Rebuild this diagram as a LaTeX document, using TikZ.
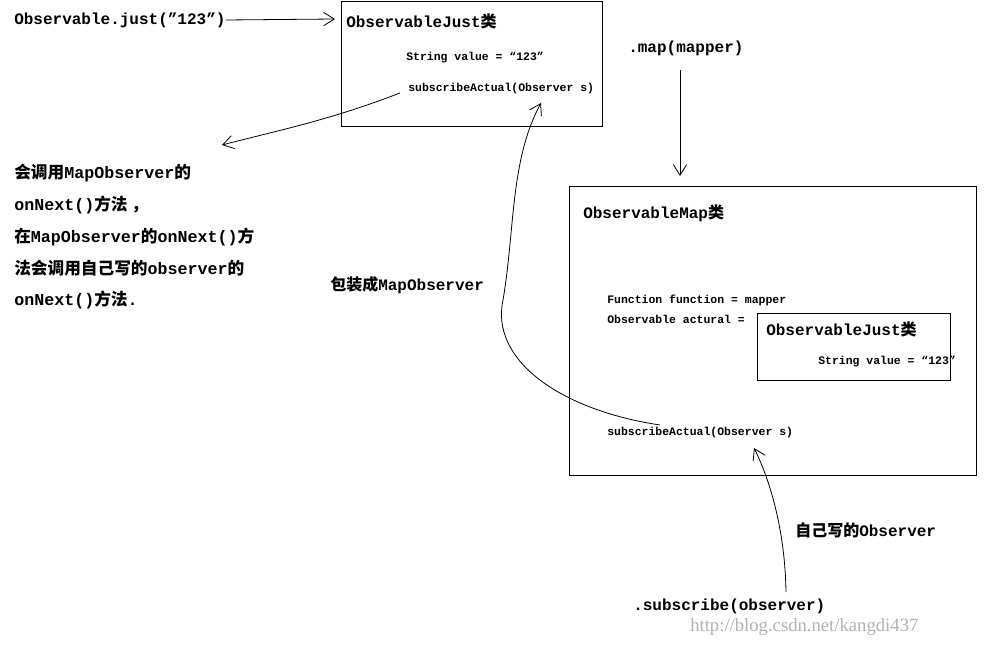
\documentclass[tikz,border=0pt]{standalone}
\usepackage{fontspec}
\setmainfont{Liberation Mono}
\newfontfamily\cjk{Noto Sans CJK SC}
\newfontfamily\wmf{Liberation Serif}
\usetikzlibrary{arrows.meta}
\begin{document}
\begin{tikzpicture}[x=0.75pt,y=-0.75pt,
  big/.style={font=\bfseries\fontsize{12}{14}\selectfont,anchor=west,inner sep=0},
  small/.style={font=\bfseries\fontsize{8.6}{10}\selectfont,anchor=west,inner sep=0},
  box/.style={draw,line width=0.6pt},
  con/.style={line width=0.6pt,-{Straight Barb[length=8pt,width=10pt]}}]
\useasboundingbox (0,0) rectangle (1000,645);
\node[big] (just) at (14,20) {Observable.just("123")};
\draw[box] (341,1) rectangle (602,126);
\coordinate (jin) at (335,19);
\draw[con] (just.east) -- (jin);
\node[big] (t1) at (346,21) {ObservableJust{\cjk 类}};
\node[small] (s1) at (406,58) {String value = “123”};
\node[small] (sa1) at (408,89) {subscribeActual(Observer s)};
\coordinate (lt) at (222,145);
\draw[con] (400,93) .. controls (330,120) and (280,130) .. (lt);
\node[big,align=left,anchor=north west,font=\bfseries\fontsize{12.5}{14}\selectfont] (note) at (14,164) {{\cjk 会调用}MapObserver{\cjk 的}\\[10pt]onNext(){\cjk 方法 ，}\\[10pt]{\cjk 在}MapObserver{\cjk 的}onNext(){\cjk 方}\\[10pt]{\cjk 法会调用自己写的}observer{\cjk 的}\\[9pt]onNext(){\cjk 方法}.};
\node[big] (map) at (628,48) {.map(mapper)};
\coordinate (mapin) at (680,176);
\draw[con] (680,70) -- (mapin);
\draw[box] (569,186) rectangle (976,475);
\node[big] (t2) at (583,213) {ObservableMap{\cjk 类}};
\node[small] (f) at (607,300) {Function function = mapper};
\node[small] (oa) at (607,319) {Observable actural =};
\draw[box] (757,313) rectangle (950,380);
\node[big] (t3) at (766,329) {ObservableJust{\cjk 类}};
\node[small] (s3) at (818,362) {String value = “123”};
\node[small] (sa2) at (607,433) {subscribeActual(Observer s)};
\coordinate (up) at (541,103);
\draw[con] (660,425) .. controls (560,410) and (490,360) .. (503,300)
  .. controls (515,230) and (510,160) .. (up);
\node[big] (wrap) at (330,285) {{\cjk 包装成}MapObserver};
\node[big] (sub) at (633,606) {.subscribe(observer)};
\coordinate (up2) at (754,448);
\draw[con] (786,592) .. controls (785,530) and (770,480) .. (up2);
\node[big] (own) at (795,530) {{\cjk 自己写的}Observer};
\node[anchor=west,inner sep=0,text=black!30,font=\wmf\fontsize{14}{16}\selectfont] (wm) at (690,627) {http://blog.csdn.net/kangdi437};
\end{tikzpicture}
\end{document}
